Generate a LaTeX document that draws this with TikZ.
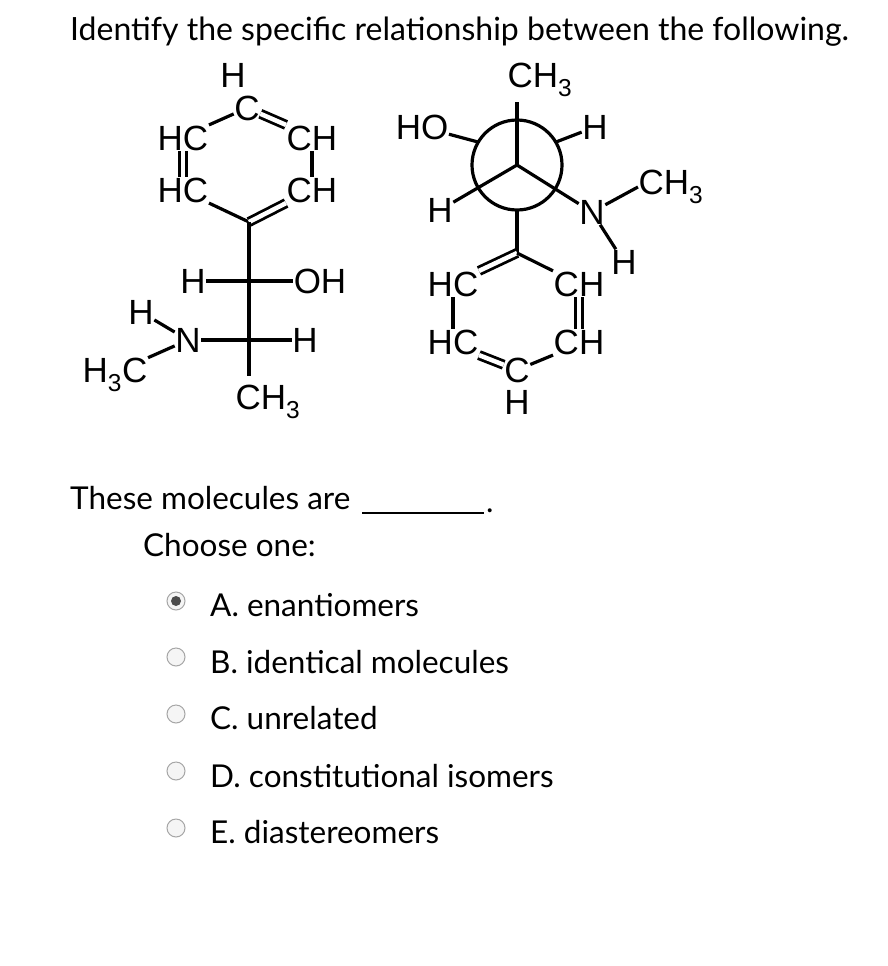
\documentclass[tikz,border=0pt]{standalone}
\usepackage{fontspec}
\setmainfont{Lato}
\newfontfamily\atomfont{Liberation Sans}
\begin{document}
\begin{tikzpicture}[x=1pt,y=-1pt,
  atom/.style={font=\atomfont\fontsize{35}{38}\selectfont,inner sep=0.5pt},
  bd/.style={line width=3.2pt},
  dbl/.style={line width=2.8pt,double,double distance=4.5pt},
  txt/.style={font=\fontsize{31.5}{34}\selectfont,anchor=west,inner sep=0pt},
  radio/.style={circle,draw=gray!70,line width=1pt,minimum size=18pt,inner sep=0pt,fill=gray!8}]
\useasboundingbox[fill=white] (0,0) rectangle (888,966);
\node[font=\fontsize{32}{36}\selectfont,anchor=west,inner sep=0pt] (title) at (70,32) {Identify the specific relationship between the following.};
% left molecule
\node[atom] (lH) at (233,75) {H};
\node[atom] (lC) at (247,108) {C};
\node[atom] (lHC1) at (183,138) {HC};
\node[atom] (lCH1) at (312,138) {CH};
\node[atom] (lHC2) at (183,190) {HC};
\node[atom] (lCH2) at (312,190) {CH};
\coordinate (lJ) at (249,222);
\coordinate (lX1) at (249,281);
\coordinate (lX2) at (249,338);
\coordinate (lEnd) at (249,376);
\node[atom] (lOH) at (320,281) {OH};
\node[atom] (lHa) at (193,281) {H};
\node[atom] (lHb) at (305,340) {H};
\node[atom] (lN) at (188,340) {N};
\node[atom] (lNH) at (141,312) {H};
\node[atom] (lMe) at (115,375) {H\textsubscript{3}C};
\node[atom] (lCH3) at (268,402) {CH\textsubscript{3}};
\draw[bd] (lC) -- (lHC1.north east);
\draw[dbl] (lC) -- (lCH1.north west);
\draw[dbl] (lHC1) -- (lHC2);
\draw[bd] (lCH1) -- (lCH2);
\draw[bd] (lHC2.south east) -- (lJ);
\draw[dbl] (lCH2.south west) -- (lJ);
\draw[bd] (lJ) -- (lEnd);
\draw[bd] (lHa) -- (lOH);
\draw[bd] (lN) -- (lHb);
\draw[bd] (lN) -- (lNH);
\draw[bd] (lN) -- (lMe.north east);
% right molecule (Newman)
\coordinate (rc) at (517,165);
\draw[bd] (rc) circle (45);
\node[atom] (rMe) at (540,80) {CH\textsubscript{3}};
\node[atom] (rHO) at (422,127) {HO};
\node[atom] (rHr) at (595,127) {H};
\node[atom] (rHl) at (440,210) {H};
\node[atom] (rN) at (592,212) {N};
\node[atom] (rNMe) at (671,187) {CH\textsubscript{3}};
\node[atom] (rNH) at (624,262) {H};
\coordinate (rtop) at (517,102);
\coordinate (bUL) at (478,142);
\coordinate (bUR) at (556,142);
\coordinate (bB) at (517,210);
\coordinate (rJ) at (517,253);
\draw[bd] (rc) -- (rtop);
\draw[bd] (rc) -- (rHl);
\draw[bd] (rc) -- (rN);
\draw[bd] (rHO) -- (bUL);
\draw[bd] (rHr) -- (bUR);
\draw[bd] (bB) -- (rJ);
\draw[bd] (rN) -- (rNMe.west);
\draw[bd] (rN) -- (rNH);
\node[atom] (rHC1) at (453,284) {HC};
\node[atom] (rCH1) at (579,284) {CH};
\node[atom] (rHC2) at (453,342) {HC};
\node[atom] (rCH2) at (579,342) {CH};
\node[atom] (rC) at (517,370) {C};
\node[atom] (rH) at (517,402) {H};
\draw[dbl] (rJ) -- (rHC1.north east);
\draw[bd] (rJ) -- (rCH1.north west);
\draw[bd] (rHC1) -- (rHC2);
\draw[dbl] (rCH1) -- (rCH2);
\draw[dbl] (rHC2.south east) -- (rC);
\draw[bd] (rCH2.south west) -- (rC);
% question
\node[txt] (q) at (70,498) {These molecules are};
\coordinate (b1) at (362,513);
\coordinate (b2) at (484,513);
\draw[line width=1.2pt] (b1) -- (b2);
\node[txt,anchor=south west] (dot) at (486,513) {.};
\node[txt] (ch) at (143,545) {Choose one:};
\node[radio] (r1) at (176,601) {};
\fill[gray!60!black] (r1) circle (5);
\node[radio] (r2) at (176,657) {};
\node[radio] (r3) at (176,714) {};
\node[radio] (r4) at (176,771) {};
\node[radio] (r5) at (176,828) {};
\node[txt] (oA) at (210,605) {A. enantiomers};
\node[txt] (oB) at (210,662) {B. identical molecules};
\node[txt] (oC) at (210,718) {C. unrelated};
\node[txt] (oD) at (210,776) {D. constitutional isomers};
\node[txt] (oE) at (210,832) {E. diastereomers};
\end{tikzpicture}
\end{document}
